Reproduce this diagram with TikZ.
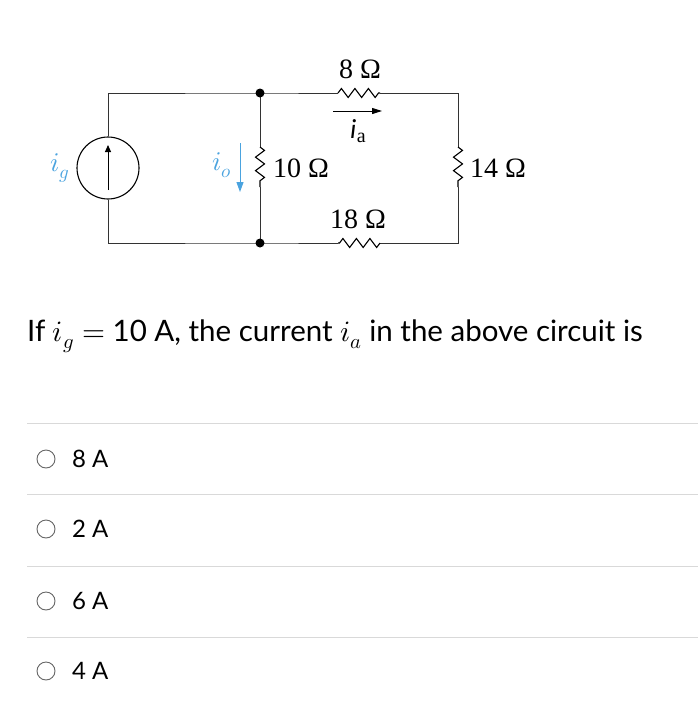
\documentclass[tikz,border=0pt]{standalone}
\usepackage{fontspec}
\setmainfont{Lato}
\newfontfamily\serif{Liberation Serif}
\usepackage{unicode-math}
\setmathfont{Latin Modern Math}
\usetikzlibrary{decorations.pathmorphing,arrows.meta}
\definecolor{cblue}{HTML}{4AA3DF}
\begin{document}
\begin{tikzpicture}[x=1pt,y=-1pt,
  wire/.style={line width=0.9pt,black!80},
  res/.style={line width=1.1pt,decorate,decoration={zigzag,amplitude=4.5pt,segment length=13.5pt}},
  clab/.style={font=\serif\fontsize{28}{28}\selectfont,inner sep=0pt},
  sep/.style={draw=black!15,line width=0.8pt},
  radio/.style={circle,draw=black!60,line width=0.9pt,minimum size=18pt,inner sep=0pt},
  opt/.style={font=\fontsize{24}{24}\selectfont,anchor=west,inner sep=0pt}]
\useasboundingbox (0,0) rectangle (698,726);
\coordinate (TL) at (108,93); \coordinate (BL) at (108,243);
\coordinate (TM) at (260,93); \coordinate (BM) at (260,243);
\coordinate (TR) at (458,93); \coordinate (BR) at (458,243);
\node[circle,draw,line width=1.1pt,minimum size=62pt,inner sep=0pt] (src) at (108,168) {};
\draw[wire] (src.north) -- (TL) -- (TM) -- (338,93);
\draw[res] (338,93) -- (380,93);
\draw[wire] (380,93) -- (TR) -- (458,147);
\draw[res] (458,147) -- (458,187);
\draw[wire] (458,187) -- (BR) -- (380,243);
\draw[res] (380,243) -- (338,243);
\draw[wire] (338,243) -- (BM) -- (BL) -- (src.south);
\draw[wire] (TM) -- (260,147); \draw[res] (260,147) -- (260,187); \draw[wire] (260,187) -- (BM);
\fill (TM) circle (4.5pt); \fill (BM) circle (4.5pt);
\draw[line width=1pt,-{Triangle[length=7pt,width=6pt]}] (108,190) -- (108,145);
\node[clab] (r8) at (360,69) {8 Ω};
\node[clab] (r18) at (358,219) {18 Ω};
\node[clab,anchor=west] (r10) at (273,168) {10 Ω};
\node[clab,anchor=west] (r14) at (470,168) {14 Ω};
\draw[line width=1pt,-{Triangle[length=10pt,width=6pt]}] (333,111) -- (382,111);
\node[inner sep=0pt] (ia) at (358,131) {\fontsize{26}{26}\selectfont$\mathit{i}$\kern0.5pt\raisebox{-4pt}{\serif\fontsize{20}{20}\selectfont a}};
\draw[cblue,line width=1pt,-{Triangle[length=10pt,width=7pt]}] (240,143) -- (240,192);
\node[cblue,inner sep=0pt] (io) at (222,165) {\fontsize{27}{27}\selectfont$i_o$};
\node[cblue,inner sep=0pt] (ig) at (60,168) {\fontsize{27}{27}\selectfont$i_g$};
\node[anchor=west,inner sep=0pt] (q) at (27,336) {\fontsize{29.5}{29.5}\selectfont If $i_g =$ 10 A, the current $i_a$ in the above circuit is};
\draw[sep] (27,423) -- (698,423);
\draw[sep] (27,494) -- (698,494);
\draw[sep] (27,566) -- (698,566);
\draw[sep] (27,637) -- (698,637);
\node[radio] (c1) at (46,459) {}; \node[opt] (o1) at (72,459) {8 A};
\node[radio] (c2) at (46,529) {}; \node[opt] (o2) at (72,529) {2 A};
\node[radio] (c3) at (46,601) {}; \node[opt] (o3) at (72,601) {6 A};
\node[radio] (c4) at (46,671) {}; \node[opt] (o4) at (72,671) {4 A};
\end{tikzpicture}
\end{document}
